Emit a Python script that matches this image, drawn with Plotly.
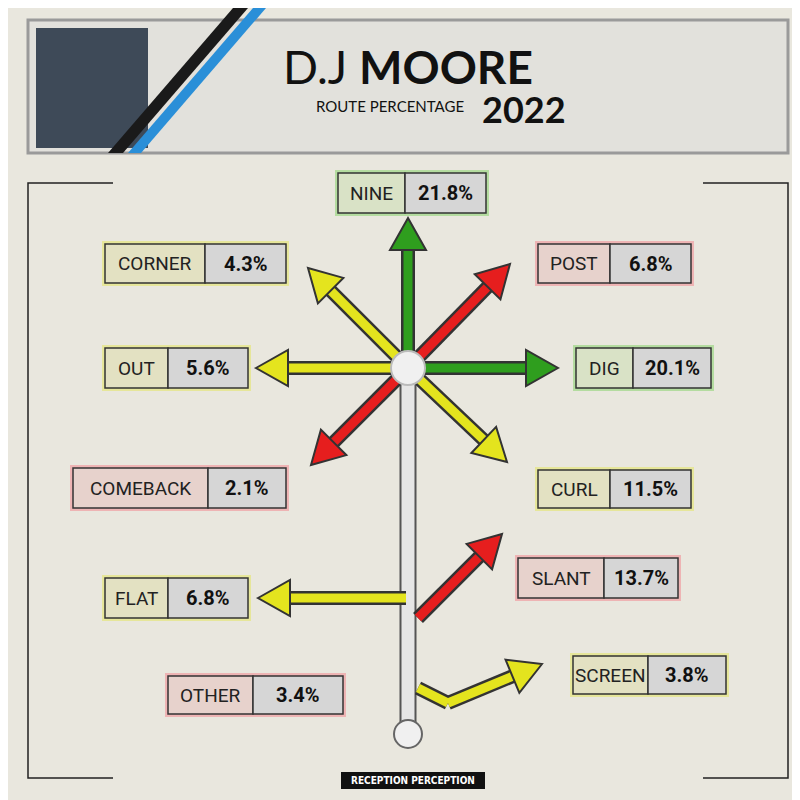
import math
import plotly.graph_objects as go

routes = ["NINE", "CORNER", "POST", "OUT", "DIG", "COMEBACK", "CURL", "SLANT", "FLAT", "OTHER", "SCREEN"]
pcts = [21.8, 4.3, 6.8, 5.6, 20.1, 2.1, 11.5, 13.7, 6.8, 3.4, 3.8]
tiers = ["g", "y", "r", "y", "g", "r", "y", "r", "y", "r", "y"]
player_first = "D.J"
player_last = "MOORE"
subtitle = "ROUTE PERCENTAGE"
season = "2022"

boxes = {
    "NINE": (330, 165, 397, 478, 205), "CORNER": (97, 236, 197, 278, 275),
    "POST": (530, 236, 602, 683, 275), "OUT": (97, 340, 160, 240, 380),
    "DIG": (568, 340, 625, 703, 380), "COMEBACK": (65, 460, 200, 278, 500),
    "CURL": (530, 462, 602, 683, 500), "SLANT": (510, 550, 596, 670, 590),
    "FLAT": (97, 570, 160, 240, 610), "OTHER": (160, 668, 245, 335, 706),
    "SCREEN": (565, 648, 640, 718, 686),
}
arrows = {
    "NINE": [(400, 345), (400, 210)], "CORNER": [(395, 355), (300, 260)],
    "POST": [(405, 355), (502, 256)], "OUT": [(390, 360), (248, 360)],
    "DIG": [(410, 360), (550, 360)], "COMEBACK": [(395, 365), (303, 457)],
    "CURL": [(405, 365), (499, 454)], "SLANT": [(410, 610), (494, 526)],
    "FLAT": [(398, 590), (250, 590)], "SCREEN": [(410, 680), (440, 695), (534, 656)],
}
fill_c = {"g": "#2f9e1e", "y": "#e4e41e", "r": "#e61e1e"}
tint_c = {"g": "#d9e2c6", "y": "#e3e1c2", "r": "#e7d2cc"}
edge_c = {"g": "#b4dca0", "y": "#e6e69a", "r": "#eeb4b4"}

shapes, ann = [], []
BG = "#e9e7de"
shapes.append(dict(type="rect", x0=0, y0=0, x1=800, y1=800, fillcolor=BG, line_width=0, layer="below"))
shapes.append(dict(type="rect", x0=20, y0=12, x1=780, y1=145, fillcolor="#e2e1dc", line=dict(color="#9a9a9a", width=3)))
shapes.append(dict(type="rect", x0=28, y0=20, x1=140, y1=140, fillcolor="#3e4a58", line_width=0))
shapes.append(dict(type="path", path="M 225 0 L 240 0 L 115 145 L 100 145 Z", fillcolor="#1a1a1a", line_width=0))
shapes.append(dict(type="path", path="M 245 0 L 258 0 L 133 145 L 120 145 Z", fillcolor="#2a8fd8", line_width=0))
ann.append(dict(x=400, y=58, text=f"{player_first} <b>{player_last}</b>", showarrow=False,
                font=dict(family="Lato", size=46, color="#111"), xanchor="center"))
ann.append(dict(x=458, y=98, text=subtitle, showarrow=False, xanchor="right", yanchor="middle",
                font=dict(family="Lato", size=15, color="#111")))
ann.append(dict(x=472, y=101, text=f"<b>{season}</b>", showarrow=False, xanchor="left", yanchor="middle",
                font=dict(family="Lato", size=36, color="#111")))
for path in ("M 105 175 L 20 175 L 20 770 L 105 770", "M 695 175 L 780 175 L 780 770 L 695 770"):
    shapes.append(dict(type="path", path=path, line=dict(color="#222", width=1.5)))
shapes.append(dict(type="line", x0=400, y0=360, x1=400, y1=725, line=dict(color="#555", width=17)))
shapes.append(dict(type="line", x0=400, y0=360, x1=400, y1=725, line=dict(color="#e6e6e6", width=13)))

def arrow(pts, col):
    (xa, ya), (xb, yb) = pts[-2], pts[-1]
    L = math.hypot(xb - xa, yb - ya)
    ux, uy = (xb - xa) / L, (yb - ya) / L
    px, py = -uy, ux
    hl, hw = 32, 18
    bx, by = xb - ux * hl, yb - uy * hl
    seg = pts[:-1] + [(bx, by)]
    for w, c in ((14, "#333"), (9, col)):
        for (x0, y0), (x1, y1) in zip(seg[:-1], seg[1:]):
            shapes.append(dict(type="line", x0=x0, y0=y0, x1=x1, y1=y1, line=dict(color=c, width=w)))
    path = (f"M {xb} {yb} L {bx + px * hw} {by + py * hw} L {bx - px * hw} {by - py * hw} Z")
    shapes.append(dict(type="path", path=path, fillcolor=col, line=dict(color="#333", width=2)))

for r, t in zip(routes, tiers):
    if r in arrows:
        arrow(arrows[r], fill_c[t])
shapes.append(dict(type="circle", x0=383, y0=343, x1=417, y1=377, fillcolor="#f0f0f0", line=dict(color="#bbb", width=2)))
shapes.append(dict(type="circle", x0=386, y0=712, x1=414, y1=740, fillcolor="#f0f0f0", line=dict(color="#666", width=2)))

for r, p, t in zip(routes, pcts, tiers):
    x0, y0, xs, x1, y1 = boxes[r]
    shapes.append(dict(type="rect", x0=x0 - 3, y0=y0 - 3, x1=x1 + 3, y1=y1 + 3, fillcolor=edge_c[t], line_width=0))
    shapes.append(dict(type="rect", x0=x0, y0=y0, x1=xs, y1=y1, fillcolor=tint_c[t], line=dict(color="#333", width=1.5)))
    shapes.append(dict(type="rect", x0=xs, y0=y0, x1=x1, y1=y1, fillcolor="#d6d6d6", line=dict(color="#333", width=1.5)))
    ann.append(dict(x=(x0 + xs) / 2, y=(y0 + y1) / 2, text=r, showarrow=False,
                    font=dict(family="Roboto", size=19, color="#222")))
    ann.append(dict(x=(xs + x1) / 2, y=(y0 + y1) / 2, text=f"<b>{p}%</b>", showarrow=False,
                    font=dict(family="Roboto", size=20, color="#111")))

shapes.append(dict(type="rect", x0=333, y0=764, x1=477, y1=781, fillcolor="#111", line_width=0))
ann.append(dict(x=405, y=772.5, text="<b>RECEPTION PERCEPTION</b>", showarrow=False,
                font=dict(family="DejaVu Sans Condensed", size=10, color="white")))

fig = go.Figure()
fig.update_layout(width=800, height=800, margin=dict(l=0, r=0, t=0, b=0),
                  paper_bgcolor=BG, plot_bgcolor=BG, shapes=shapes, annotations=ann, showlegend=False,
                  xaxis=dict(range=[0, 800], visible=False, fixedrange=True),
                  yaxis=dict(range=[800, 0], visible=False, fixedrange=True))
fig.write_html("out.html")
